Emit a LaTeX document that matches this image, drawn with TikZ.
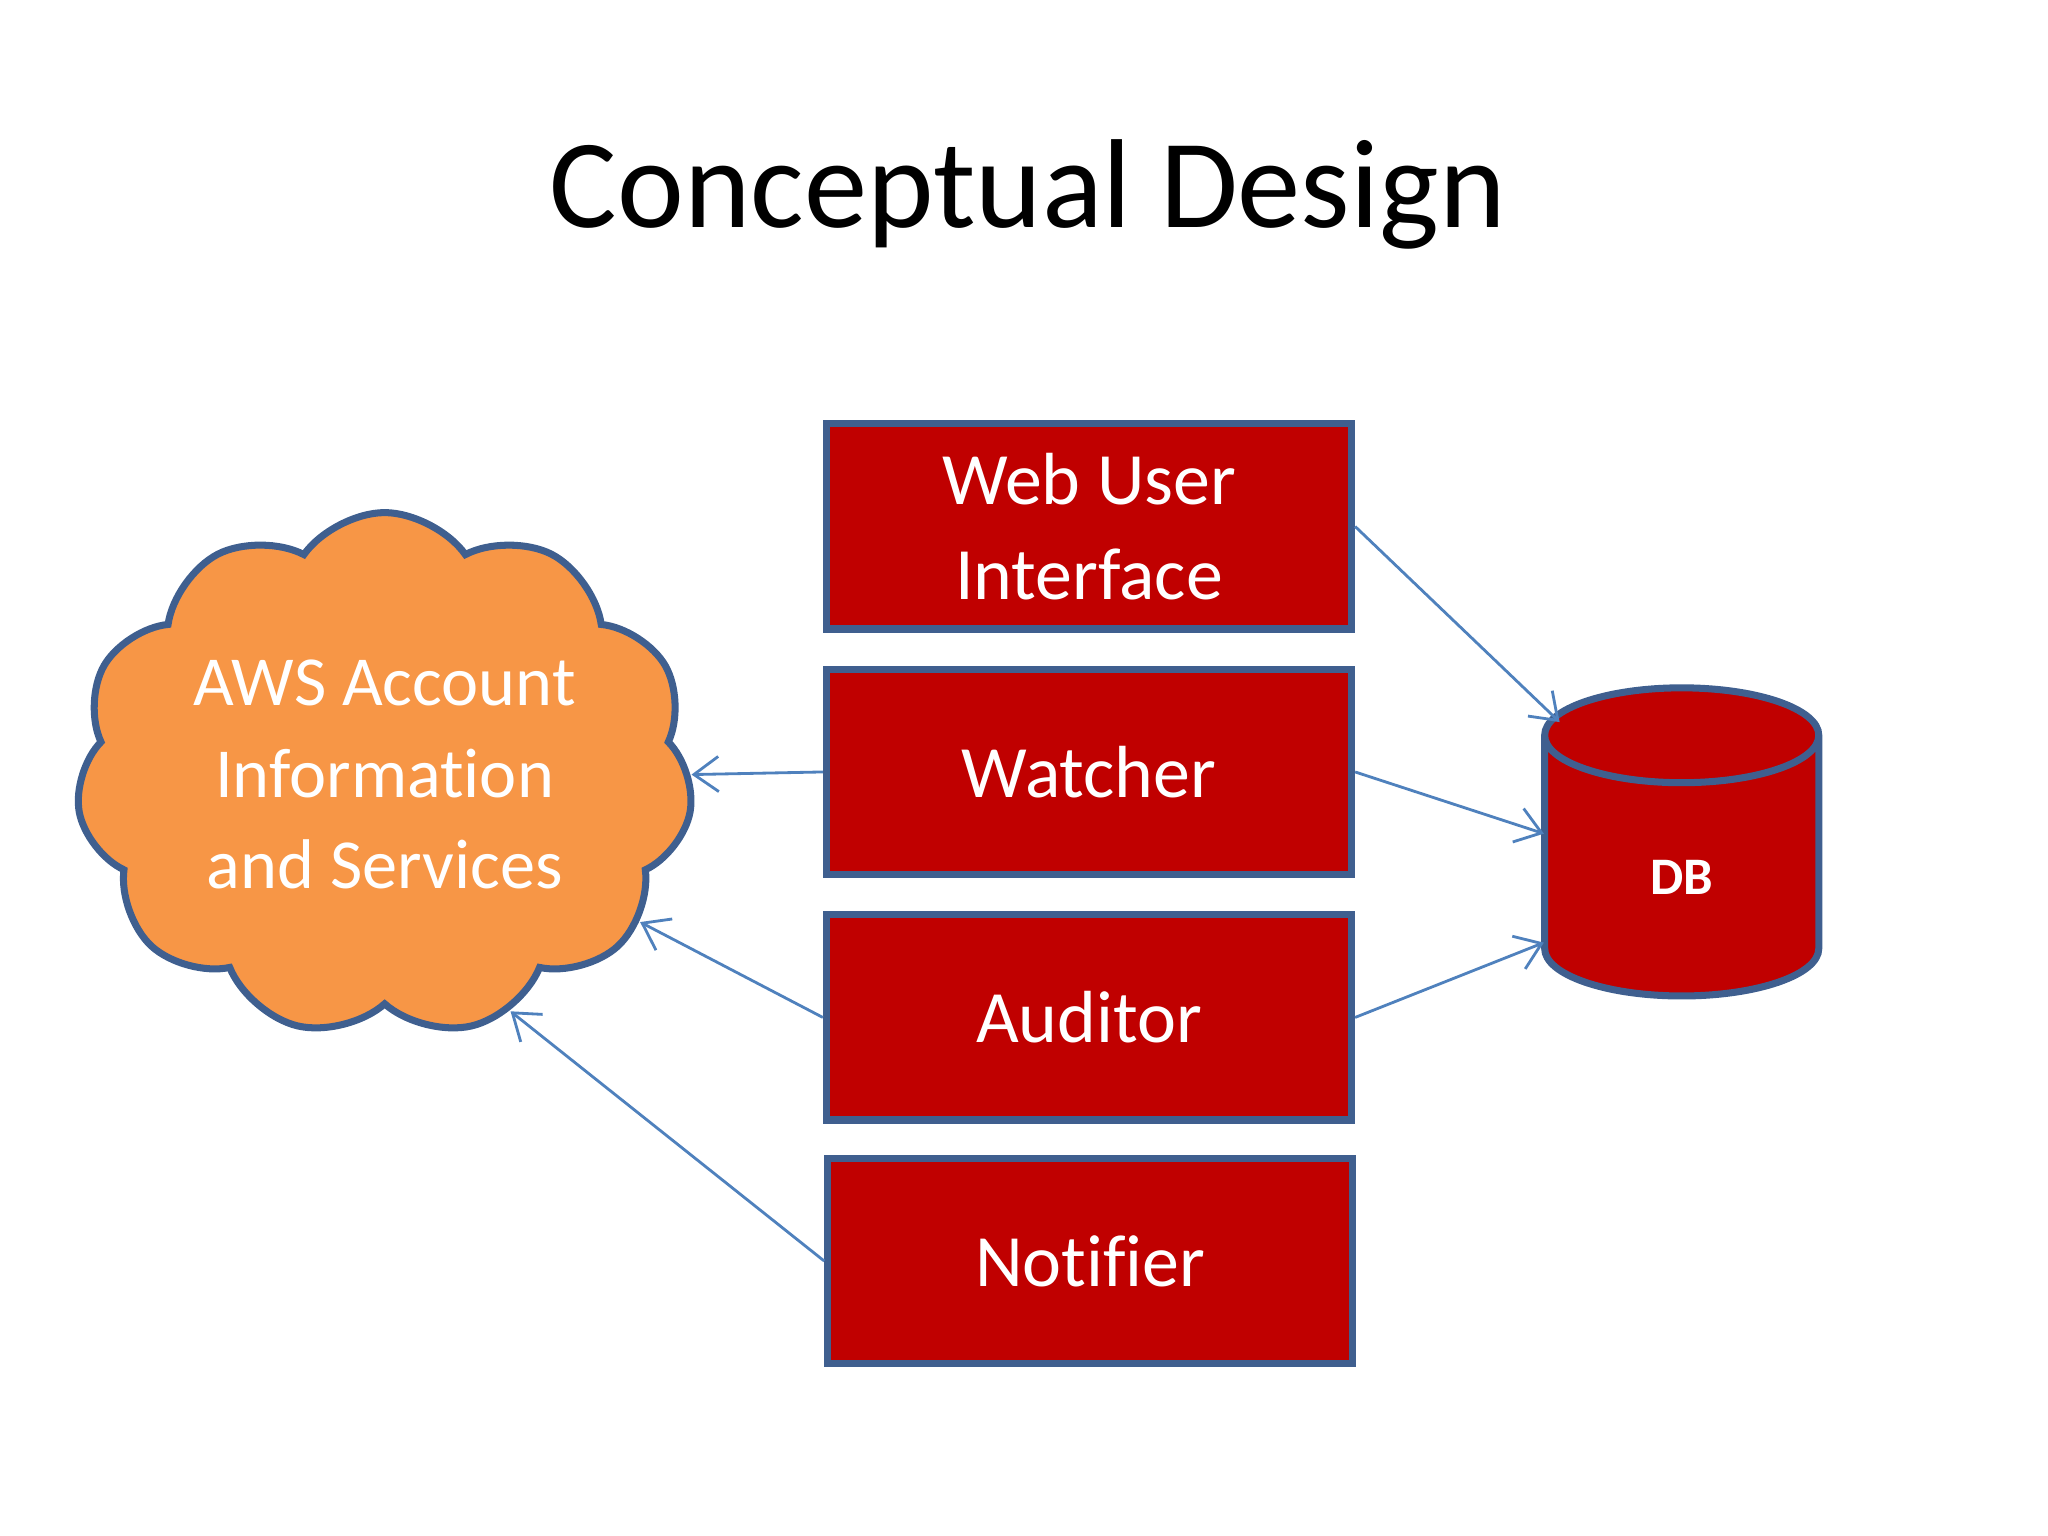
\documentclass[tikz,border=0pt]{standalone}
\usepackage{fontspec}
\setmainfont{Carlito}[Ligatures=NoCommon]
\usetikzlibrary{arrows.meta}
\usetikzlibrary{shapes.symbols}
\usetikzlibrary{shapes.geometric}
\definecolor{boxred}{HTML}{C00000}
\definecolor{edgeblue}{HTML}{3F5F8F}
\definecolor{linkblue}{HTML}{4F81BD}
\definecolor{cloudorange}{HTML}{F79646}
\tikzset{
  part/.style={draw=edgeblue, line width=2pt, fill=boxred, text=white,
    minimum width=5.25cm, minimum height=2.05cm, align=center,
    font=\fontsize{21}{27}\selectfont},
  link/.style={draw=linkblue, line width=0.8pt, -{Straight Barb[length=7pt,width=10pt]}}
}
\begin{document}
\begin{tikzpicture}[x=0.01313cm, y=-0.01313cm]

  %% Page frame.
  \useasboundingbox (0,0) rectangle (1560,1170);
  \node (title) at (783,148) {\fontsize{36}{44}\selectfont Conceptual Design};

  %% The parts:
  \node[part] (web) at (829.5,401) {Web User\\Interface};
  \node[part] (watcher) at (829.5,588) {Watcher};
  \node[part] (auditor) at (829.5,775) {Auditor};
  \node[part] (notifier) at (830.5,960.5) {Notifier};

  %% The cloud and the store:
  \node[cloud, cloud puffs=11, cloud puff arc=110, aspect=1.25, draw=edgeblue,
    line width=2pt, fill=cloudorange, text=white, align=center,
    minimum width=5.2cm, minimum height=4.1cm,
    font=\fontsize{20}{26}\selectfont] (aws) at (293,590)
    {AWS Account\\Information\\and Services};
  \node[cylinder, shape border rotate=90, aspect=1.1, draw=edgeblue,
    line width=2pt, fill=boxred, text=white, minimum width=2.74cm,
    minimum height=3.08cm, font=\fontsize{15}{18}\selectfont\bfseries]
    (db) at (1281,668) {DB};
  \coordinate (dbtop) at (1188,550);
  \coordinate (dbmid) at (1176,635);
  \coordinate (dblow) at (1176,718);

  %% The connections:
  \draw[link] (web.east) -- (dbtop);
  \draw[link] (watcher.east) -- (dbmid);
  \draw[link] (auditor.east) -- (dblow);
  \draw[link] (watcher.west) -- (aws.east);
  \draw[link] (auditor.west) -- (aws.-30);
  \draw[link] (notifier.west) -- (aws.-62);

\end{tikzpicture}
\end{document}
